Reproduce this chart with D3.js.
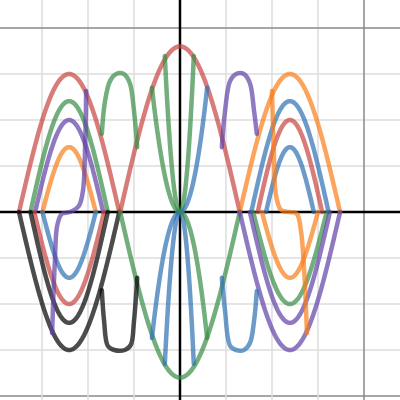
<!DOCTYPE html>
<html><head><meta charset="utf-8">
<script src="https://cdn.jsdelivr.net/npm/d3@7"></script>
<style>body{margin:0;background:#fff}</style>
</head><body><svg id="c" width="400" height="400"></svg>
<script>
// humps: [colour, centre, half width, amplitude]
const humps = [
  ["red", -2.41, 1.09, 3.0], ["green", -2.41, 0.84, 2.41], ["purple", -2.41, 0.74, 2.0], ["orange", -2.41, 0.58, 1.41],
  ["blue", -2.41, 0.58, -1.43], ["red", -2.41, 0.76, -2.0], ["black", -2.41, 0.84, -2.41], ["black", -2.41, 1.09, -3.0],
  ["red", 0, 1.30, 3.6], ["green", 0, 1.30, -3.6],
  ["orange", 2.39, 1.09, 3.0], ["blue", 2.39, 0.84, 2.41], ["red", 2.39, 0.70, 2.0], ["blue", 2.39, 0.52, 1.41],
  ["orange", 2.39, 0.61, -1.43], ["green", 2.39, 0.80, -2.0], ["purple", 2.39, 0.87, -2.41], ["purple", 2.39, 1.09, -3.0]
];
// narrow lenses through the origin: [colour, x end, y end]
const lenses = [
  ["green", -0.61, 2.70], ["green", -0.33, 3.39], ["green", 0.30, 3.39], ["blue", 0.59, 2.70],
  ["blue", -0.61, -2.74], ["blue", -0.33, -3.30], ["blue", 0.30, -3.30], ["green", 0.59, -2.74]
];
// free strokes: [colour, [[x,y],...]]
const strokes = [
  ["green", [[-1.70,1.70],[-1.63,2.41],[-1.52,2.85],[-1.39,3.0],[-1.22,3.0],[-1.09,2.80],[-1.0,2.20],[-0.93,1.41]]],
  ["black", [[-1.70,-1.70],[-1.65,-2.37],[-1.57,-2.91],[-1.43,-3.0],[-1.20,-3.0],[-1.07,-2.89],[-1.0,-2.37],[-0.93,-1.43]]],
  ["purple", [[0.91,1.41],[0.98,2.20],[1.09,2.85],[1.22,3.0],[1.39,3.0],[1.52,2.80],[1.61,2.20],[1.67,1.70]]],
  ["blue", [[0.91,-1.43],[0.98,-2.15],[1.09,-2.91],[1.22,-3.0],[1.39,-3.0],[1.52,-2.85],[1.61,-2.37],[1.67,-1.72]]],
  ["purple", [[-2.04,2.63],[-2.06,1.54],[-2.11,0.46],[-2.20,0.13],[-2.39,0],[-2.57,-0.04],[-2.67,-0.30],[-2.72,-1.07],[-2.78,-2.63]]],
  ["orange", [[2.00,2.63],[2.04,1.33],[2.09,0.35],[2.20,0.04],[2.39,0],[2.54,-0.04],[2.63,-0.41],[2.70,-1.28],[2.76,-2.63]]]
];
const colours = {red:"#c74440", blue:"#2d70b3", green:"#388c46", purple:"#6042a6", orange:"#fa7e19", black:"#000000"};

const svg = d3.select("#c");
const x = d3.scaleLinear().domain([-3.913, 4.783]).range([0, 400]);
const y = d3.scaleLinear().domain([-4.087, 4.609]).range([400, 0]);

// grid
const g = svg.append("g");
d3.range(-4, 5).forEach(v => {
  const major = v % 4 === 0 && v !== 0;
  g.append("line").attr("x1", x(v)).attr("x2", x(v)).attr("y1", 0).attr("y2", 400)
    .attr("stroke", major ? "#888" : "#ddd").attr("stroke-width", major ? 1.5 : 1.5);
  g.append("line").attr("y1", y(v)).attr("y2", y(v)).attr("x1", 0).attr("x2", 400)
    .attr("stroke", major ? "#888" : "#ddd").attr("stroke-width", 1.5);
});
g.append("line").attr("x1", x(0)).attr("x2", x(0)).attr("y1", 0).attr("y2", 400).attr("stroke", "#000").attr("stroke-width", 2.5);
g.append("line").attr("y1", y(0)).attr("y2", y(0)).attr("x1", 0).attr("x2", 400).attr("stroke", "#000").attr("stroke-width", 2.5);

const line = d3.line().x(d => x(d[0])).y(d => y(d[1]));
const smooth = d3.line().x(d => x(d[0])).y(d => y(d[1])).curve(d3.curveCatmullRom);
const draw = (c, d, gen) => svg.append("path").attr("d", gen(d)).attr("fill", "none")
  .attr("stroke", colours[c]).attr("stroke-width", 4.5).attr("stroke-opacity", 0.7)
  .attr("stroke-linecap", "round").attr("stroke-linejoin", "round");

humps.forEach(([c, cx, w, a]) => {
  const pts = d3.range(0, 101).map(i => {
    const t = -1 + i / 50;
    return [cx + t * w, a * Math.cos(Math.PI / 2 * t)];
  });
  draw(c, pts, line);
});
lenses.forEach(([c, dx, Y]) => {
  const pts = d3.range(0, 51).map(i => {
    const t = i / 50;
    return [dx * t, Y * t * t];
  });
  draw(c, pts, line);
});
strokes.forEach(([c, pts]) => draw(c, pts, smooth));
</script></body></html>
